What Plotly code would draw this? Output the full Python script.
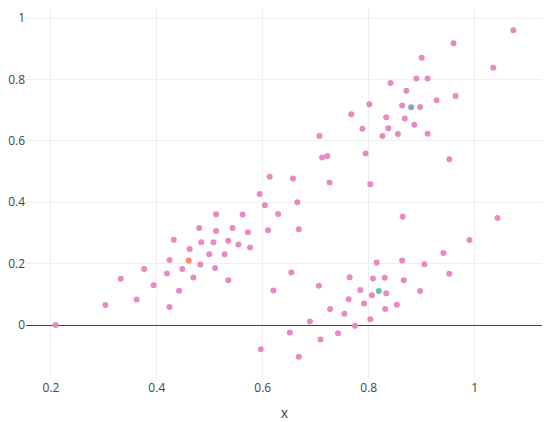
import plotly.graph_objects as go

# data points
x = [0.512, 0.562, 0.594, 0.613, 0.604, 0.629, 1.073, 0.960, 0.900, 1.035,
     0.841, 0.890, 0.911, 0.871, 0.964, 0.928, 0.801, 0.863, 0.897, 0.767,
     0.833, 0.868, 0.886, 0.788, 0.837, 0.826, 0.855, 0.911, 0.707, 0.712,
     0.722, 0.794, 0.952, 0.657, 0.726, 0.803, 0.665, 0.864, 1.043, 0.480,
     0.543, 0.512, 0.572, 0.610, 0.432, 0.484, 0.507, 0.535, 0.554, 0.462,
     0.576, 0.499, 0.528, 0.424, 0.376, 0.482, 0.419, 0.448, 0.510, 0.332,
     0.469, 0.535, 0.394, 0.442, 0.620, 0.362, 0.303, 0.424, 0.209, 0.596,
     0.668, 0.990, 0.941, 0.815, 0.863, 0.905, 0.654, 0.764, 0.808, 0.830,
     0.866, 0.952, 0.706, 0.784, 0.833, 0.806, 0.897, 0.762, 0.791, 0.853,
     0.727, 0.831, 0.754, 0.689, 0.803, 0.774, 0.651, 0.742, 0.709, 0.668]
y = [0.361, 0.360, 0.427, 0.483, 0.390, 0.362, 0.960, 0.918, 0.871, 0.838,
     0.788, 0.803, 0.803, 0.763, 0.746, 0.732, 0.719, 0.715, 0.710, 0.687,
     0.677, 0.673, 0.652, 0.639, 0.641, 0.616, 0.622, 0.623, 0.616, 0.546,
     0.551, 0.559, 0.540, 0.477, 0.464, 0.459, 0.400, 0.353, 0.349, 0.316,
     0.316, 0.306, 0.302, 0.309, 0.278, 0.270, 0.270, 0.275, 0.262, 0.248,
     0.253, 0.231, 0.231, 0.212, 0.183, 0.197, 0.168, 0.183, 0.186, 0.151,
     0.155, 0.146, 0.130, 0.112, 0.113, 0.083, 0.065, 0.059, 0.000, -0.079,
     0.312, 0.277, 0.235, 0.204, 0.210, 0.198, 0.171, 0.156, 0.152, 0.154,
     0.146, 0.167, 0.128, 0.114, 0.104, 0.097, 0.111, 0.084, 0.070, 0.066,
     0.052, 0.052, 0.037, 0.012, 0.019, -0.002, -0.024, -0.027, -0.047, -0.103]

# cluster centres
cx = [0.460, 0.880, 0.819]
cy = [0.210, 0.709, 0.111]
ccolors = ['#fc8d62', '#8da0cb', '#66c2a5']

fig = go.Figure()
fig.add_trace(go.Scatter(x=x, y=y, mode='markers',
                         marker=dict(color='#e78ac3', size=6),
                         showlegend=False))
for i in range(len(cx)):
    fig.add_trace(go.Scatter(x=[cx[i]], y=[cy[i]], mode='markers',
                             marker=dict(color=ccolors[i], size=6),
                             showlegend=False))

# page body has an 8px margin, so the figure is a bit smaller than the window
fig.update_layout(template='none', width=542, height=414,
                  margin=dict(l=18, r=7, t=0, b=43),
                  xaxis=dict(title='x'))

fig.write_html("out.html")
